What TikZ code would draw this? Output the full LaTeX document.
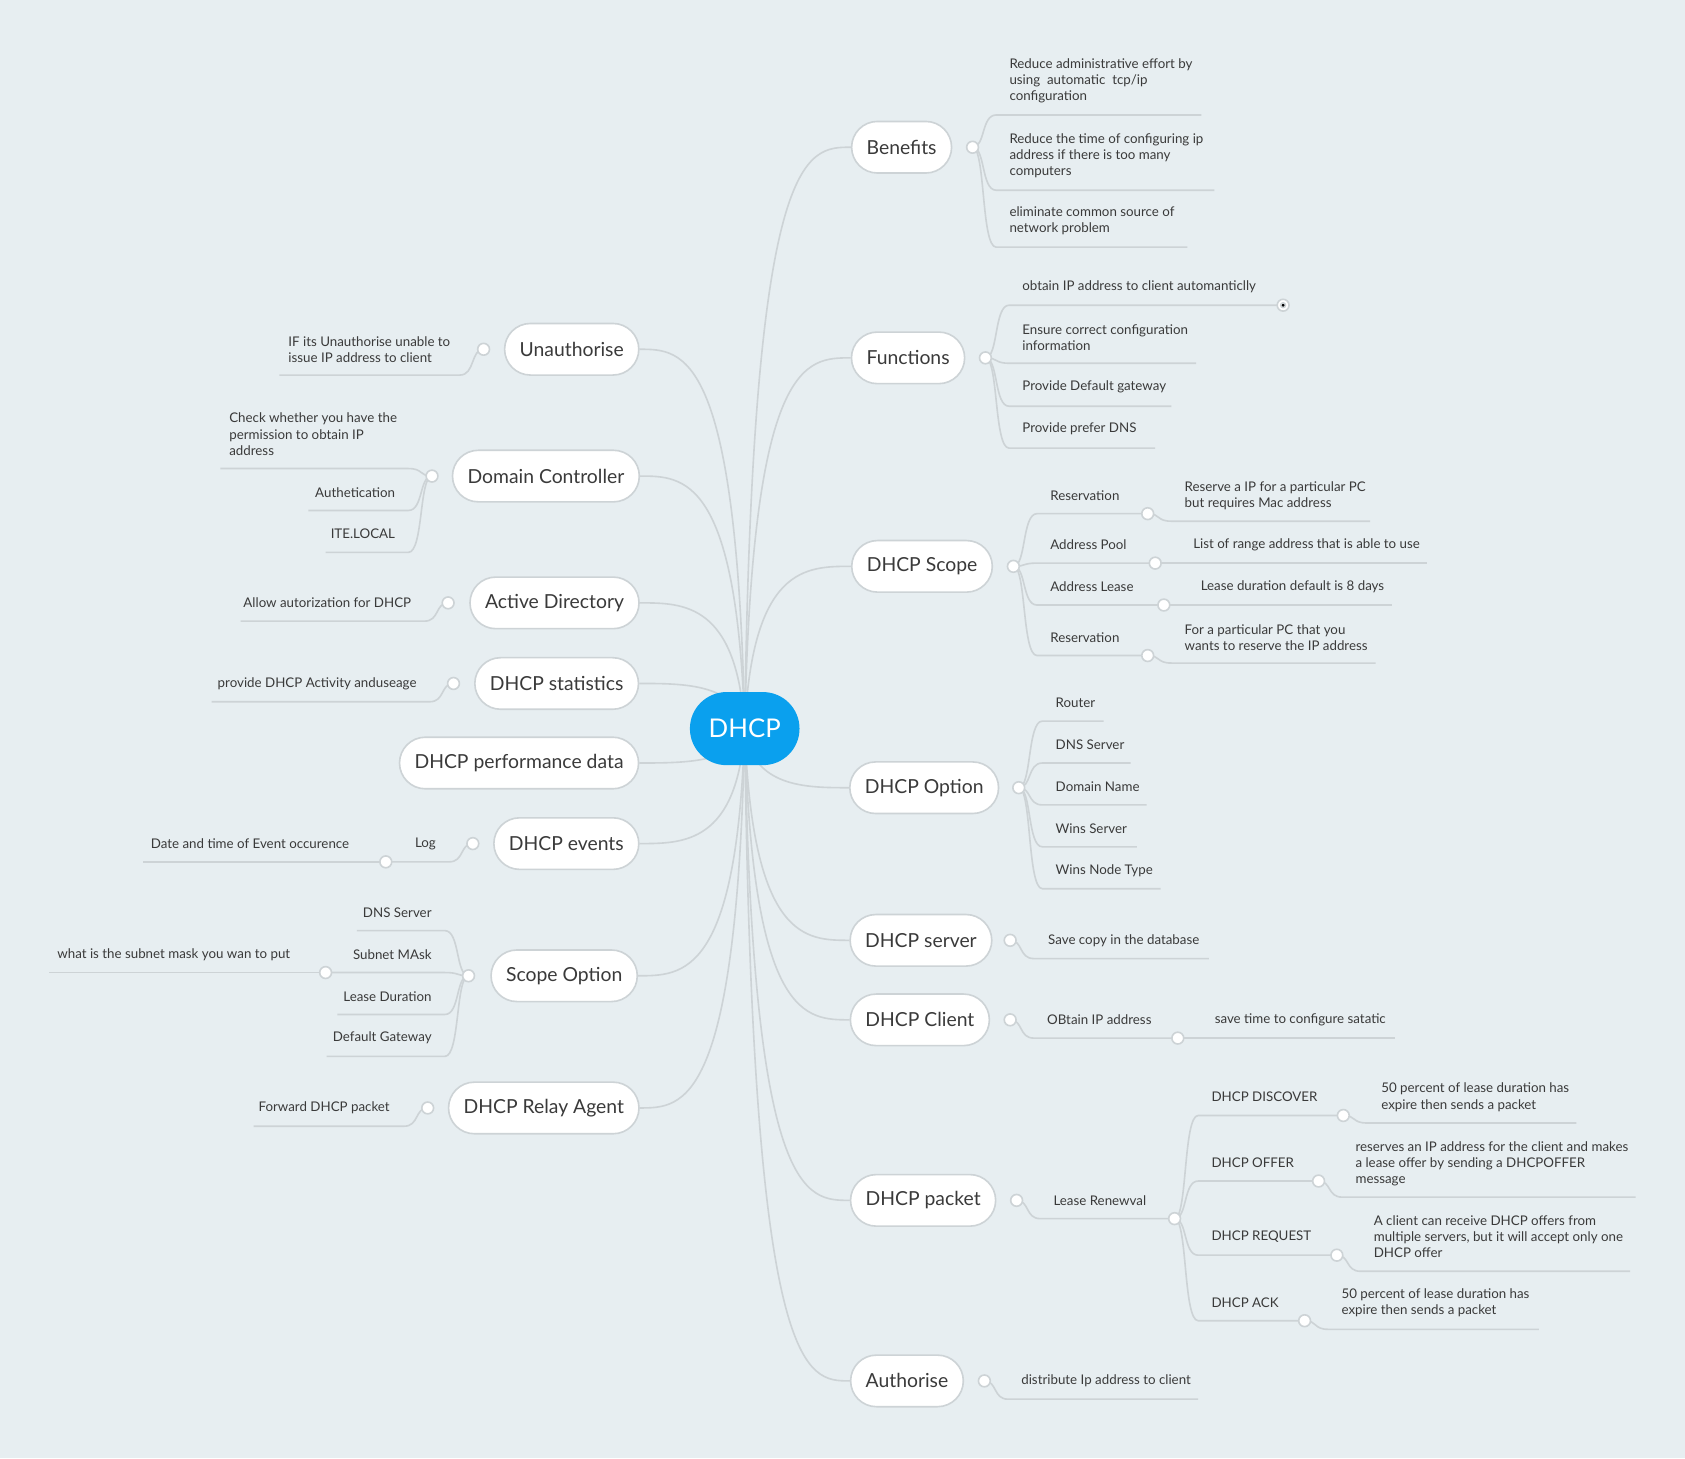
\documentclass[tikz,border=0pt]{standalone}
\usepackage{fontspec}
\setmainfont{Lato}
\definecolor{bg}{HTML}{E7EEF1}
\definecolor{ln}{HTML}{CDD3D6}
\definecolor{tx}{HTML}{3A3A3A}
\definecolor{blu}{HTML}{0AA0EE}
\tikzset{
 ln/.style={draw=ln,line width=0.75pt},
 topic/.style={draw=ln,line width=0.75pt,fill=white,rounded corners=12pt,minimum height=24pt,inner xsep=7pt,text=tx,font=\fontsize{9}{11}\selectfont},
 leaf/.style={anchor=west,align=left,text=tx,inner sep=0pt,font=\fontsize{6.2}{7.5}\selectfont},
 leafr/.style={anchor=east,align=right,text=tx,inner sep=0pt,font=\fontsize{6.2}{7.5}\selectfont},
 knob/.style={draw=ln,line width=0.75pt,fill=white,circle,minimum size=5.5pt,inner sep=0pt}
}
\newcommand\rb[4]{\draw[ln] (#1,#2) .. controls ({#1+12},#2) and ({#1+8},#3) .. ({#1+22},#3) -- (#4,#3);}
\newcommand\lb[4]{\draw[ln] (#1,#2) .. controls ({#1-12},#2) and ({#1-8},#3) .. ({#1-22},#3) -- (#4,#3);}
\newcommand\kn[2]{\node[knob] at (#1,#2) {};}
\begin{document}
\begin{tikzpicture}[x=0.5pt,y=-0.5pt]
\fill[bg] (0,0) rectangle (1568,1357);
\useasboundingbox (0,0) rectangle (1568,1357);
\coordinate (c) at (693,678);
% topics right
\node[topic] (ben) at (839,137) {Benefits};
\node[topic] (fun) at (845,333) {Functions};
\node[topic] (sco) at (858,527) {DHCP Scope};
\node[topic] (opt) at (860,733) {DHCP Option};
\node[topic] (srv) at (857,875) {DHCP server};
\node[topic] (cli) at (856,949) {DHCP Client};
\node[topic] (pkt) at (859,1117) {DHCP packet};
\node[topic] (aut) at (844,1285) {Authorise};
% topics left
\node[topic] (una) at (532,325) {Unauthorise};
\node[topic] (dom) at (508,443) {Domain Controller};
\node[topic] (act) at (516,561) {Active Directory};
\node[topic] (sta) at (518,636) {DHCP statistics};
\node[topic] (per) at (483,710) {DHCP performance data};
\node[topic] (eve) at (527,785) {DHCP events};
\node[topic] (sop) at (525,908) {Scope Option};
\node[topic] (rel) at (506,1031) {DHCP Relay Agent};
% main connectors
\foreach \n/\y in {ben/137,fun/333,sco/527,opt/733,srv/875,cli/949,pkt/1117,aut/1285}
  \draw[ln] (c) .. controls (700,\y) and (750,\y) .. (\n.west);
\foreach \n/\y in {una/325,dom/443,act/561,sta/636,per/710,eve/785,sop/908,rel/1031}
  \draw[ln] (c) .. controls (686,\y) and (636,\y) .. (\n.east);
\node[fill=blu,rounded corners=17pt,minimum width=51pt,minimum height=34pt,text=white,font=\fontsize{12}{14}\selectfont] (dhcp) at (c) {DHCP};
% Benefits
\rb{905}{137}{107}{1118}\rb{905}{137}{177}{1130}\rb{905}{137}{230}{1105}
\node[leaf] at (939,75) {Reduce administrative effort by\\using \ automatic \ tcp/ip\\configuration};
\node[leaf] at (939,145) {Reduce the time of configuring ip\\address if there is too many\\computers};
\node[leaf] at (939,205) {eliminate common source of\\network problem};
\kn{905}{137}
% Functions
\rb{917}{333}{284}{1190}\rb{917}{333}{338}{1113}\rb{917}{333}{378}{1090}\rb{917}{333}{417}{1075}
\node[leaf] at (951,267) {obtain IP address to client automanticlly};
\node[leaf] at (951,314) {Ensure correct configuration\\information};
\node[leaf] at (951,360) {Provide Default gateway};
\node[leaf] at (951,399) {Provide prefer DNS};
\kn{917}{333}\kn{1194}{284}\fill[ln] (1194,284) circle (2.2);
% Scope
\rb{943}{527}{478}{1068}\rb{943}{527}{524}{1075}\rb{943}{527}{563}{1083}\rb{943}{527}{610}{1068}
\rb{1068}{478}{485}{1275}\rb{1075}{524}{524}{1328}\rb{1083}{563}{563}{1295}\rb{1068}{610}{617}{1280}
\node[leaf] at (977,461) {Reservation};
\node[leaf] at (977,507) {Address Pool};
\node[leaf] at (977,546) {Address Lease};
\node[leaf] at (977,593) {Reservation};
\node[leaf] at (1102,461) {Reserve a IP for a particular PC\\but requires Mac address};
\node[leaf] at (1110,507) {List of range address that is able to use};
\node[leaf] at (1117,546) {Lease duration default is 8 days};
\node[leaf] at (1102,593) {For a particular PC that you\\wants to reserve the IP address};
\kn{943}{527}\kn{1068}{478}\kn{1075}{524}\kn{1083}{563}\kn{1068}{610}
% Option
\rb{948}{733}{671}{1027}\rb{948}{733}{710}{1052}\rb{948}{733}{749}{1067}\rb{948}{733}{788}{1058}\rb{948}{733}{827}{1080}
\node[leaf] at (982,654) {Router};
\node[leaf] at (982,693) {DNS Server};
\node[leaf] at (982,732) {Domain Name};
\node[leaf] at (982,771) {Wins Server};
\node[leaf] at (982,810) {Wins Node Type};
\kn{948}{733}
% server
\rb{940}{875}{892}{1125}
\node[leaf] at (975,875) {Save copy in the database};
\kn{940}{875}
% client
\rb{940}{949}{966}{1096}\rb{1096}{966}{966}{1298}
\node[leaf] at (974,949) {OBtain IP address};
\node[leaf] at (1130,949) {save time to configure satatic};
\kn{940}{949}\kn{1096}{966}
% packet
\rb{946}{1117}{1134}{1093}
\rb{1093}{1134}{1038}{1250}\rb{1093}{1134}{1099}{1227}\rb{1093}{1134}{1168}{1244}\rb{1093}{1134}{1229}{1214}
\rb{1250}{1038}{1045}{1467}\rb{1227}{1099}{1114}{1522}\rb{1244}{1168}{1183}{1517}\rb{1214}{1229}{1237}{1432}
\node[leaf] at (980,1117) {Lease Renewval};
\node[leaf] at (1127,1021) {DHCP DISCOVER};
\node[leaf] at (1127,1082) {DHCP OFFER};
\node[leaf] at (1127,1151) {DHCP REQUEST};
\node[leaf] at (1127,1212) {DHCP ACK};
\node[leaf] at (1285,1021) {50 percent of lease duration has\\expire then sends a packet};
\node[leaf] at (1261,1083) {reserves an IP address for the client and makes\\a lease offer by sending a DHCPOFFER\\message};
\node[leaf] at (1278,1151) {A client can receive DHCP offers from\\multiple servers, but it will accept only one\\DHCP offer};
\node[leaf] at (1248,1212) {50 percent of lease duration has\\expire then sends a packet};
\kn{946}{1117}\kn{1093}{1134}\kn{1250}{1038}\kn{1227}{1099}\kn{1244}{1168}\kn{1214}{1229}
% authorise
\rb{916}{1285}{1302}{1115}
\node[leaf] at (950,1285) {distribute Ip address to client};
\kn{916}{1285}
% Left: Unauthorise
\lb{450}{325}{349}{260}
\node[leaf] at (268,325) {IF its Unauthorise unable to\\issue IP address to client};
\kn{450}{325}
% Domain controller
\lb{402}{443}{436}{205}\lb{402}{443}{475}{287}\lb{402}{443}{514}{303}
\node[leaf] at (213,404) {Check whether you have the\\permission to obtain IP\\address};
\node[leafr] at (368,458) {Authetication};
\node[leafr] at (368,497) {ITE.LOCAL};
\kn{402}{443}
% Active directory
\lb{417}{561}{578}{224}
\node[leafr] at (383,561) {Allow autorization for DHCP};
\kn{417}{561}
% statistics
\lb{422}{636}{653}{197}
\node[leafr] at (388,636) {provide DHCP Activity anduseage};
\kn{422}{636}
% events
\lb{440}{785}{802}{359}\lb{359}{802}{802}{133}
\node[leafr] at (406,785) {Log};
\node[leaf] at (140,785) {Date and time of Event occurence};
\kn{440}{785}\kn{359}{802}
% scope option
\lb{436}{908}{866}{332}\lb{436}{908}{905}{303}\lb{436}{908}{944}{314}\lb{436}{908}{983}{304}
\lb{303}{905}{905}{46}
\node[leafr] at (402,849) {DNS Server};
\node[leafr] at (402,888) {Subnet MAsk};
\node[leafr] at (402,927) {Lease Duration};
\node[leafr] at (402,966) {Default Gateway};
\node[leaf] at (53,888) {what is the subnet mask you wan to put};
\kn{436}{908}\kn{303}{905}
% relay
\lb{398}{1031}{1048}{236}
\node[leafr] at (363,1031) {Forward DHCP packet};
\kn{398}{1031}
\end{tikzpicture}
\end{document}
